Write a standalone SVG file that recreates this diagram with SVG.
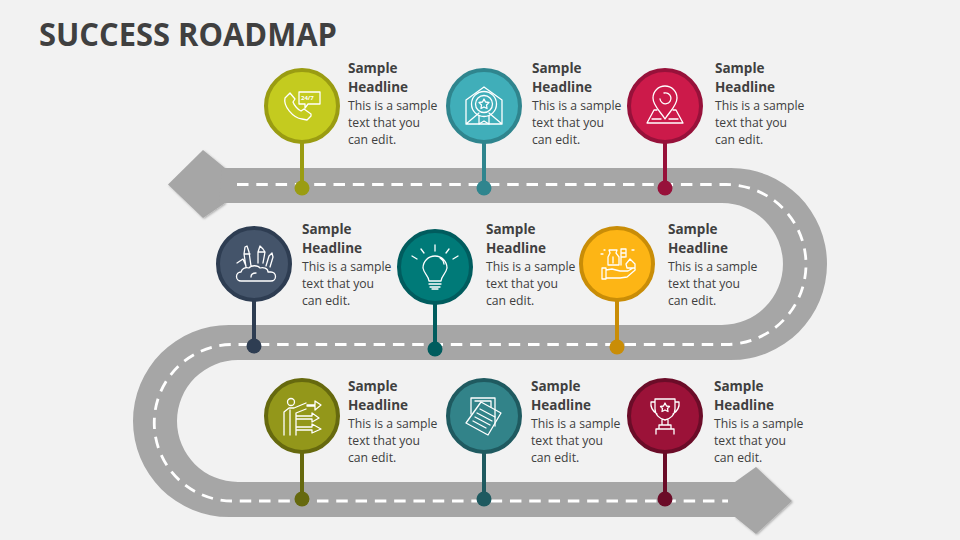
<svg xmlns="http://www.w3.org/2000/svg" width="960" height="540" viewBox="0 0 960 540">
<defs>
<filter id="sh" x="-20%" y="-20%" width="140%" height="140%"><feDropShadow dx="1" dy="1" stdDeviation="1.2" flood-color="#000" flood-opacity="0.3"/></filter>
</defs>
<style>
text{font-family:"Open Sans","Noto Sans","Liberation Sans",sans-serif;fill:#404040}
.t{font-size:33px;font-weight:700}
.h{font-size:13.5px;font-weight:700}
.b{font-size:12.2px}
.road{fill:#a6a6a6}
.dash{fill:none;stroke:#fff;stroke-width:2.8;stroke-dasharray:11.5 7.8}
.st{stroke-width:4;fill:none}
.ic{fill:none;stroke:#fff;stroke-width:1.3;stroke-linejoin:round;stroke-linecap:round}
.c{stroke-width:4}
</style>
<rect width="960" height="540" fill="#f2f2f2"/>
<text class="t" x="39" y="46" textLength="298" lengthAdjust="spacingAndGlyphs">SUCCESS ROADMAP</text>
<g id="connectors">
<path class="road" filter="url(#sh)" d="M168 184.500L203 150L225 168V203L203 218Z"/>
<path class="road" filter="url(#sh)" d="M792 501L756 467L735 482V517L756 534Z"/>
<path class="road" d="M222 168H731A96 96 0 0 1 731 360H238A61 61 0 0 0 238 482H740V517H229A96 96 0 0 1 229 325H722A61 61 0 0 0 722 203H219Z"/>
<path class="dash" d="M237 184.500H726A80 80 0 0 1 726 344.500H232.500A78.250 78.250 0 0 0 232.500 501H728"/>
</g>
<g id="node1">
<path class="st" stroke="#9a9c12" d="M302 140V188"/><circle cx="302" cy="188" r="7.500" fill="#9a9c12"/>
<circle class="c" cx="302" cy="106" r="36" fill="#c4cb1f" stroke="#9a9c12"/>
<path class="ic" d="M289 94l-4 4c-2 8 8 20 17 21l5 1 4-4 0-2-7-5-3 2c-3-1-7-6-8-9l2-3-5-6zM299 92h21v12h-12l-3 4v-4h-6z"/>
<text x="301" y="100" style="font-size:6px;font-weight:700;fill:#fff">24/7</text>
<text class="h" x="348" y="73">Sample</text><text class="h" x="348" y="92">Headline</text>
<text class="b" x="348" y="110">This is a sample</text><text class="b" x="348" y="127">text that you</text><text class="b" x="348" y="144">can edit.</text>
</g>
<g id="node2">
<path class="st" stroke="#2f858e" d="M484 140V188"/><circle cx="484" cy="188" r="7.500" fill="#2f858e"/>
<circle class="c" cx="484" cy="106" r="36" fill="#40aeb9" stroke="#2f858e"/>
<path class="ic" d="M466 100V124H502V100L484 87ZM466 124l13-11M502 124l-13-11"/>
<circle class="ic" cx="484" cy="104" r="12.500" fill="#40aeb9"/><circle class="ic" cx="484" cy="104" r="8.500"/>
<path class="ic" d="M484 99l1.500 3 3.500 .5-2.500 2.500 .5 3.500-3-1.500-3 1.500 .5-3.500-2.500-2.500 3.500-.5zM479 116v8l5-3 5 3v-8"/>
<text class="h" x="532" y="73">Sample</text><text class="h" x="532" y="92">Headline</text>
<text class="b" x="532" y="110">This is a sample</text><text class="b" x="532" y="127">text that you</text><text class="b" x="532" y="144">can edit.</text>
</g>
<g id="node3">
<path class="st" stroke="#97113a" d="M665 140V188"/><circle cx="665" cy="188" r="7.500" fill="#97113a"/>
<circle class="c" cx="665" cy="106" r="36" fill="#cc1a4a" stroke="#97113a"/>
<path class="ic" d="M665 119c-4-7-12-13-12-21a12 12 0 0 1 24 0c0 8-8 14-12 21z"/>
<path class="ic" d="M660 99a5.500 5.500 0 1 0 4-6M657 110h-3l-7 13h36l-7-13h-3M652 119h9M669 119h9"/>
<text class="h" x="715" y="73">Sample</text><text class="h" x="715" y="92">Headline</text>
<text class="b" x="715" y="110">This is a sample</text><text class="b" x="715" y="127">text that you</text><text class="b" x="715" y="144">can edit.</text>
</g>
<g id="node4">
<path class="st" stroke="#2e3d52" d="M254 298V346"/><circle cx="254" cy="346" r="7.500" fill="#2e3d52"/>
<circle class="c" cx="254" cy="264" r="36" fill="#44546a" stroke="#2e3d52"/>
<path class="ic" d="M241 281a4.500 4.500 0 0 1 0-9c1-4 5-5 8-4 2-3 9-3 11 0 3-1 8 0 8 4h3a4.500 4.500 0 0 1 0 9zM251 277c0-4 3-4 5-4M237 263l6-4 3 7M246 267l-2-13 1-7 2-1 2 6 2 14M244 254h6M258 263v-11l2-6 3 3 2 3-2 11M258 252h7M266 266l3-10 3-3 1 4-3 10"/>
<text class="h" x="302" y="234">Sample</text><text class="h" x="302" y="253">Headline</text>
<text class="b" x="302" y="271">This is a sample</text><text class="b" x="302" y="288">text that you</text><text class="b" x="302" y="305">can edit.</text>
</g>
<g id="node5">
<path class="st" stroke="#005c5e" d="M435 300V349"/><circle cx="435" cy="349" r="7.500" fill="#005c5e"/>
<circle class="c" cx="435" cy="267" r="36" fill="#007a78" stroke="#005c5e"/>
<path class="ic" d="M429 281c0-5-5-7-6-13a12 12 0 1 1 24 0c-1 6-6 8-6 13zM429 284h12M430 287h10M432 289h6M435 251v-6M424 253l-3-4M446 253l3-4M417 259l-5-3M453 259l5-3M440 258a8 8 0 0 1 4 6"/>
<text class="h" x="486" y="234">Sample</text><text class="h" x="486" y="253">Headline</text>
<text class="b" x="486" y="271">This is a sample</text><text class="b" x="486" y="288">text that you</text><text class="b" x="486" y="305">can edit.</text>
</g>
<g id="node6">
<path class="st" stroke="#c98d07" d="M617 298V347"/><circle cx="617" cy="347" r="7.500" fill="#c98d07"/>
<circle class="c" cx="617" cy="264" r="36" fill="#fdb515" stroke="#c98d07"/>
<path class="ic" d="M602 268h4v11h-4zM606 270l6-1 8 2h8l5-3c2-1 3 2 1 3l-7 6-7 1h-14M608 265v-8l2-4-1-3h8l-1 3 3 4v8zM621 265v-16h5v8M626 264l4-5 5 5v4h-8zM613 257v6M622 253h3M622 257h3M601 254h2M632 250h2M604 250h1"/>
<text class="h" x="668" y="234">Sample</text><text class="h" x="668" y="253">Headline</text>
<text class="b" x="668" y="271">This is a sample</text><text class="b" x="668" y="288">text that you</text><text class="b" x="668" y="305">can edit.</text>
</g>
<g id="node7">
<path class="st" stroke="#66690e" d="M302 450V499"/><circle cx="302" cy="499" r="7.500" fill="#66690e"/>
<circle class="c" cx="302" cy="416" r="36" fill="#93971a" stroke="#66690e"/>
<circle class="ic" cx="291" cy="402" r="3.500"/>
<path class="ic" d="M284 435V412l5-4h5l12-5M284 424v-10M296 435V413l10-4M290 410v25M307 405h8v-4l6 4-6 5v-4h-8M296 416h16v-3l7 5-7 4v-3h-16M297 427h15v-3l9 5-9 4v-3h-15"/>
<text class="h" x="348" y="391">Sample</text><text class="h" x="348" y="410">Headline</text>
<text class="b" x="348" y="428">This is a sample</text><text class="b" x="348" y="445">text that you</text><text class="b" x="348" y="462">can edit.</text>
</g>
<g id="node8">
<path class="st" stroke="#1f5a60" d="M484 450V499"/><circle cx="484" cy="499" r="7.500" fill="#1f5a60"/>
<circle class="c" cx="484" cy="416" r="36" fill="#328389" stroke="#1f5a60"/>
<path class="ic" d="M471 414V398H495V426M475 401H491V407"/>
<path class="ic" fill="#328389" d="M481 402L501 413 488 435 466 423ZM480 409l15 8M477 413l15 8M475 417l15 8M473 421l13 7"/>
<text class="h" x="531" y="391">Sample</text><text class="h" x="531" y="410">Headline</text>
<text class="b" x="531" y="428">This is a sample</text><text class="b" x="531" y="445">text that you</text><text class="b" x="531" y="462">can edit.</text>
</g>
<g id="node9">
<path class="st" stroke="#6b0c28" d="M665 450V499"/><circle cx="665" cy="499" r="7.500" fill="#6b0c28"/>
<circle class="c" cx="665" cy="416" r="36" fill="#9b1238" stroke="#6b0c28"/>
<path class="ic" d="M655 399H675V409c0 6-5 10-10 11-5-1-10-5-10-11zM655 402H651c-1 7 3 10 6 12M675 402H679c1 7-3 10-6 12M662 420v5h6v-5M659 429v-4h12v4M656 434v-5h18v5M665 403l1.500 3 3 .5-2 2 .5 3-3-1.500-3 1.500.5-3-2-2 3-.5z"/>
<text class="h" x="714" y="391">Sample</text><text class="h" x="714" y="410">Headline</text>
<text class="b" x="714" y="428">This is a sample</text><text class="b" x="714" y="445">text that you</text><text class="b" x="714" y="462">can edit.</text>
</g>
</svg>
